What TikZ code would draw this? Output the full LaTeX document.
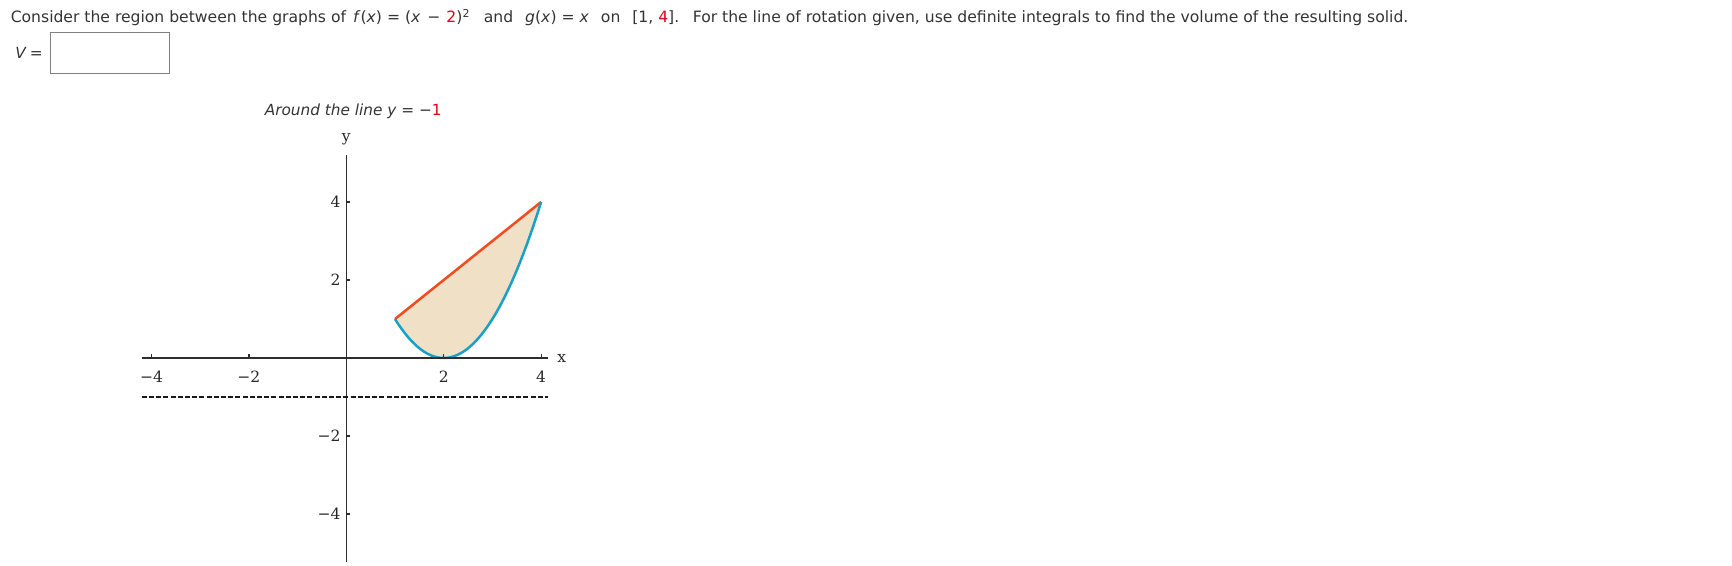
\documentclass[tikz,border=0pt]{standalone}
\usepackage{fontspec}
\setmainfont{DejaVu Sans}
\newfontfamily\plotfont{DejaVu Serif}
\usetikzlibrary{positioning}
\definecolor{textgray}{RGB}{51,51,51}
\definecolor{numred}{RGB}{225,0,25}
\definecolor{regionfill}{RGB}{240,224,198}
\definecolor{lineorange}{RGB}{244,74,30}
\definecolor{curveblue}{RGB}{24,160,200}
\definecolor{axisgray}{RGB}{45,45,45}
\tikzset{
    prose/.style={text=textgray, inner sep=0pt, font=\fontsize{15.6}{18}\selectfont},
    plotlabel/.style={text=black!85, inner sep=0pt, font=\plotfont\fontsize{15.5}{18}\selectfont},
    axis/.style={axisgray, line width=1.2pt},
    rotline/.style={black!90, line width=2.5pt, dash pattern=on 5pt off 2.2pt},
    fcurve/.style={curveblue, line width=2.5pt, line join=round},
    gline/.style={lineorange, line width=2.5pt},
}

\begin{document}
\begin{tikzpicture}[x=1pt,y=1pt]
\useasboundingbox (0,0) rectangle (1732,-565);
\node[prose, anchor=base west] (question) at (10.6,-22.3) {Consider the region between the graphs of\hspace{7pt}\textit{f}(\textit{x}) = (\textit{x}\hspace{2pt} − \hspace{1pt}{\color{numred}2})\textsuperscript{2}\hspace{9pt} and\hspace{7pt} \textit{g}(\textit{x}) = \textit{x}\hspace{7pt} on\hspace{7pt} [1, {\color{numred}4}].\hspace{7pt} For the line of rotation given, use definite integrals to find the volume of the resulting solid.};
\node[draw=gray, line width=1pt, minimum width=119pt, minimum height=41pt, inner sep=0pt] (answer) at (109.8,-52.8) {};
\node[prose, font=\fontsize{15.3}{18}\selectfont, left=7pt of answer] (vlabel) {\textit{V}\hspace{3pt}=};
\node[prose, font=\fontsize{15.3}{18}\selectfont, anchor=base] (title) at (353.3,-115.7) {\textit{Around the line y} = −{\color{numred}1}};
\begin{scope}[shift={(346.3,-358)}, x=48.7pt, y=39pt]
\coordinate (A) at (1,1);
\coordinate (B) at (4,4);
\fill[regionfill] plot[domain=1:4, samples=60] (\x,{(\x-2)^2}) -- cycle;
\draw[gline] (A) -- (B);
\draw[fcurve] plot[domain=1:4, samples=60, smooth] (\x,{(\x-2)^2});
\draw[axis] (-4.2,0) -- (4.135,0) coordinate (xend);
\draw[axis] (0,-5.22) -- (0,5.2) coordinate (yend);
\foreach \t/\l [count=\i] in {-4/−4,-2/−2,2/2,4/4}{
    \draw[axis] (\t,0) -- ++(0,4pt);
    \node[plotlabel, yshift=-18.7pt] (xnum\i) at (\t,0) {\l};
    \draw[axis] (0,\t) -- ++(4pt,0);
    \node[plotlabel, anchor=east, xshift=-5.6pt] (ynum\i) at (0,\t) {\l};
}
\node[plotlabel, right=9.5pt of xend] (xlab) {x};
\node[plotlabel, above=10pt of yend] (ylab) {y};
\draw[rotline] (-4.2,-1) -- (4.135,-1);
%\draw[help lines] (-4,-5) grid (4,5);
\end{scope}
\end{tikzpicture}
\end{document}
